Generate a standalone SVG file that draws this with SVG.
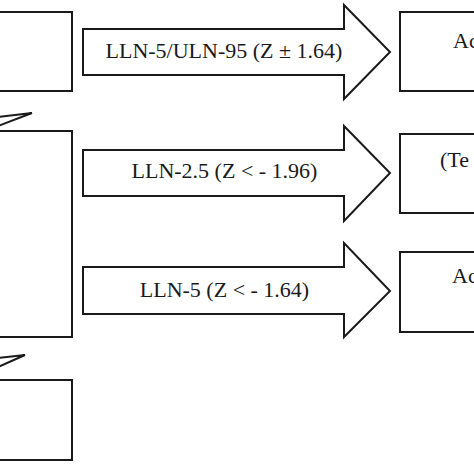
<svg xmlns="http://www.w3.org/2000/svg" width="474" height="474" viewBox="0 0 474 474">
<style>
.box{fill:#fff;stroke:#1a1a1a;stroke-width:2}
.arr{fill:#fff;stroke:#1a1a1a;stroke-width:2;stroke-linejoin:miter}
.t{font-family:"Liberation Serif","Times New Roman",serif;font-size:22px;fill:#1a1a1a}
.m{text-anchor:middle}
</style>
<rect width="474" height="474" fill="#fff"/>
<g id="left1"><rect class="box" x="-5" y="12" width="77" height="79"/></g>
<g id="left2"><rect class="box" x="-5" y="131" width="77" height="206"/></g>
<g id="left3"><rect class="box" x="-5" y="380" width="77" height="80"/></g>
<g id="slivers">
<polygon class="arr" points="32,113 -2,117 -2,126" stroke-width="1.5"/>
<polygon class="arr" points="25,355 -2,358 -2,367" stroke-width="1.5"/>
</g>
<g id="connectors">
<g id="arrow1"><polygon class="arr" points="83,29 344,29 344,5 390,52 344,99 344,75 83,75"/>
<text class="t m" x="224" y="58">LLN-5/ULN-95 (Z ± 1.64)</text></g>
<g id="arrow2"><polygon class="arr" points="83,150 344,150 344,126 390,173 344,221 344,196 83,196"/>
<text class="t m" x="224.5" y="178">LLN-2.5 (Z &lt; - 1.96)</text></g>
<g id="arrow3"><polygon class="arr" points="83,267 344,267 344,243 390,291 344,337 344,314 83,314"/>
<text class="t m" x="224.5" y="297">LLN-5 (Z &lt; - 1.64)</text></g>
</g>
<g id="right1"><rect class="box" x="400" y="12" width="80" height="79"/><text class="t" x="453" y="48">Ac</text></g>
<g id="right2"><rect class="box" x="400" y="134" width="80" height="79"/><text class="t" x="440" y="167">(Te</text></g>
<g id="right3"><rect class="box" x="400" y="252" width="80" height="80"/><text class="t" x="452" y="283">Ac</text></g>
</svg>
